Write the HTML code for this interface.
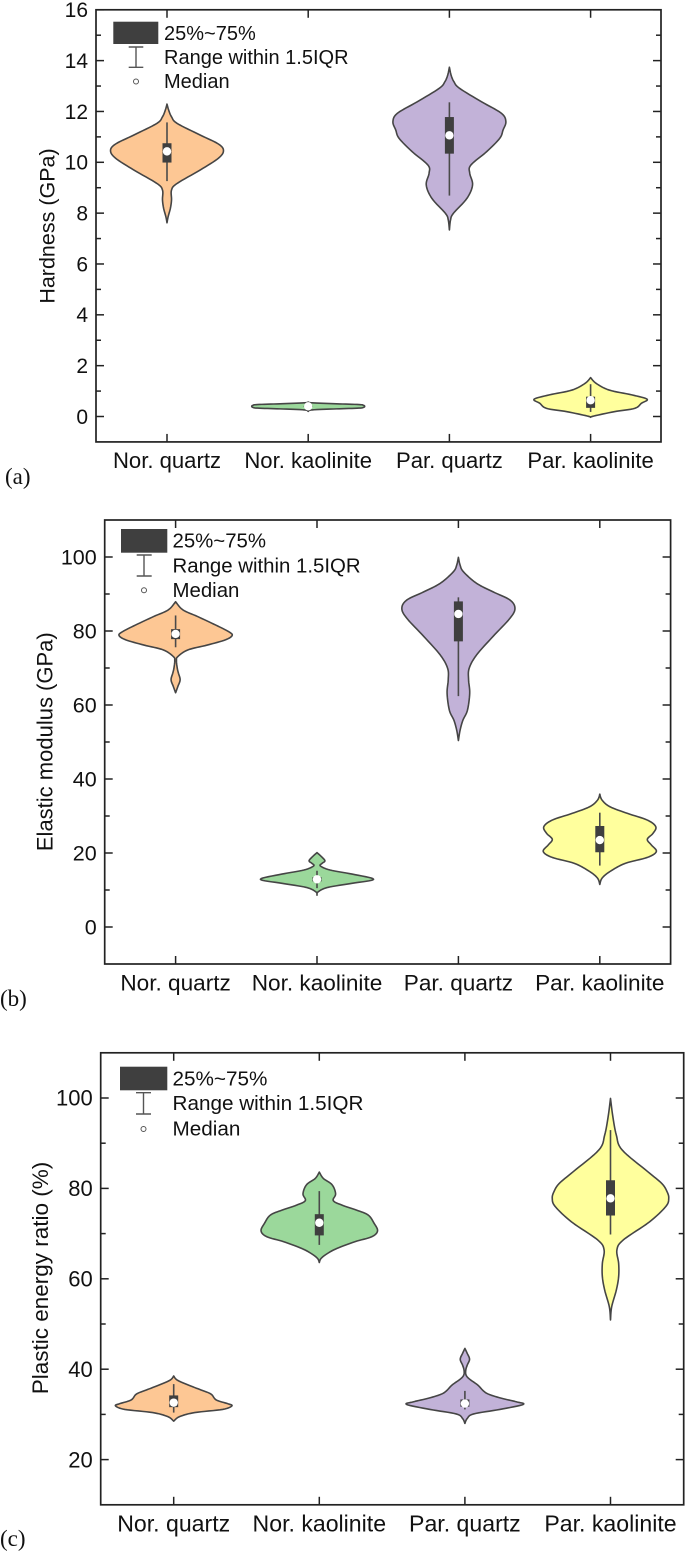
<!DOCTYPE html>
<html lang="en">
<head>
<meta charset="utf-8">
<title>Violin plots of hardness, elastic modulus and plastic energy ratio</title>
<style>
html,body{margin:0;padding:0;background:#fff;}
svg{display:block;}
text{font-family:"Liberation Sans",Arial,sans-serif;fill:#111;}
.panel-letter{font-family:"Liberation Serif","Times New Roman",serif;font-size:23px;}
</style>
</head>
<body>
<svg id="figure" xmlns="http://www.w3.org/2000/svg" width="685" height="1552" viewBox="0 0 685 1552">
  <g id="panel-a">
    <text transform="translate(54.5 226) rotate(-90)" text-anchor="middle" font-size="21.5">Hardness (GPa)</text>
    <g>
      <rect x="113.3" y="21.7" width="45" height="22.3" fill="#3f3f3f"/>
      <path d="M128.7 47H143.3M136 47V67.3M128.7 67.3H143.3" fill="none" stroke="#555" stroke-width="1.4"/>
      <circle cx="136" cy="81.5" r="2.5" fill="#fff" stroke="#555" stroke-width="1"/>
      <text x="164" y="40" font-size="20">25%~75%</text>
      <text x="164" y="64" font-size="20">Range within 1.5IQR</text>
      <text x="164" y="88" font-size="20">Median</text>
    </g>
    <text class="panel-letter" x="5" y="484">(a)</text>
  </g>
  <g id="panel-b">
    <text transform="translate(52.4 741.7) rotate(-90)" text-anchor="middle" font-size="22">Elastic modulus (GPa)</text>
    <g>
      <rect x="121" y="529" width="46.3" height="23.7" fill="#3f3f3f"/>
      <path d="M136.7 555H151.7M144 555V576M136.7 576H151.7" fill="none" stroke="#555" stroke-width="1.4"/>
      <circle cx="144" cy="590.3" r="2.5" fill="#fff" stroke="#555" stroke-width="1"/>
      <text x="172.5" y="547.7" font-size="20.4">25%~75%</text>
      <text x="172.5" y="572.3" font-size="20.4">Range within 1.5IQR</text>
      <text x="172.5" y="597" font-size="20.4">Median</text>
    </g>
    <text class="panel-letter" x="0" y="1006">(b)</text>
  </g>
  <g id="panel-c">
    <text transform="translate(48 1278) rotate(-90)" text-anchor="middle" font-size="22.5">Plastic energy ratio (%)</text>
    <g>
      <rect x="120" y="1066.7" width="47.3" height="23.6" fill="#3f3f3f"/>
      <path d="M136 1092.7H151M143.5 1092.7V1114M136 1114H151" fill="none" stroke="#555" stroke-width="1.4"/>
      <circle cx="143.5" cy="1129" r="2.5" fill="#fff" stroke="#555" stroke-width="1"/>
      <text x="172.5" y="1085.3" font-size="20.7">25%~75%</text>
      <text x="172.5" y="1110" font-size="20.7">Range within 1.5IQR</text>
      <text x="172.5" y="1135.7" font-size="20.7">Median</text>
    </g>
    <text class="panel-letter" x="0" y="1546">(c)</text>
  </g>
</svg>
<script>
// ---- categories and axis ticks ----
const categories = ["Nor. quartz", "Nor. kaolinite", "Par. quartz", "Par. kaolinite"];
const categorySlugs = ["nor-quartz", "nor-kaolinite", "par-quartz", "par-kaolinite"];
const violinColors = ["#fdc794", "#9bd89b", "#c2b2d8", "#ffff9d"];

const hardnessMajorTicks = [0, 2, 4, 6, 8, 10, 12, 14, 16];
const hardnessMinorTicks = [1, 3, 5, 7, 9, 11, 13, 15];
const modulusMajorTicks = [0, 20, 40, 60, 80, 100];
const modulusMinorTicks = [10, 30, 50, 70, 90];
const plasticMajorTicks = [20, 40, 60, 80, 100];
const plasticMinorTicks = [30, 50, 70, 90];

// ---- box statistics, one entry per category ----
const hardnessQ1 = [9.99, 0.38, 10.34, 0.34];
const hardnessQ3 = [10.75, 0.42, 11.78, 0.78];
const hardnessMedian = [10.43, 0.40, 11.06, 0.64];
const hardnessWhiskerLow = [9.26, 0.34, 8.69, 0.18];
const hardnessWhiskerHigh = [11.57, 0.46, 12.36, 1.27];

const modulusQ1 = [77.8, 12.3, 77.2, 20.2];
const modulusQ3 = [80.5, 13.5, 88.0, 27.3];
const modulusMedian = [79.2, 12.9, 84.6, 23.5];
const modulusWhiskerLow = [75.6, 10.5, 62.4, 16.6];
const modulusWhiskerHigh = [84.2, 15.2, 89.1, 30.9];

const plasticQ1 = [31.6, 69.6, 31.7, 74.0];
const plasticQ3 = [34.2, 74.3, 33.3, 81.8];
const plasticMedian = [32.6, 72.4, 32.4, 77.8];
const plasticWhiskerLow = [30.4, 67.5, 31.1, 69.8];
const plasticWhiskerHigh = [36.7, 79.4, 35.2, 92.9];

// ---- violin density profiles (value, relative density) ----
const hardnessQuartzValues = [12.29, 12.05, 11.79, 11.53, 11.07, 10.72, 10.46, 10.16, 9.70, 9.17, 8.91, 8.52, 8.19, 7.86, 7.62];
const hardnessQuartzDensity = [0, .03, .08, .18, .59, .91, 1, .91, .59, .18, .08, .08, .06, .02, 0];
const hardnessKaoliniteValues = [.57, .54, .50, .47, .44, .40, .36, .33, .30, .26, .20];
const hardnessKaoliniteDensity = [0, .07, .5, .9, .98, 1, .98, .9, .5, .07, 0];
const hardnessParQuartzValues = [13.74, 13.43, 13.17, 12.91, 12.38, 11.93, 11.60, 11.27, 10.94, 10.42, 9.89, 9.57, 9.11, 8.58, 7.99, 7.73, 7.34];
const hardnessParQuartzDensity = [0, .03, .08, .18, .57, .92, 1, .95, .89, .66, .38, .36, .41, .31, .07, .02, 0];
const hardnessParKaoliniteValues = [1.53, 1.30, 1.04, .85, .68, .52, .32, .19, .02, -.03];
const hardnessParKaoliniteDensity = [0, .1, .33, .73, 1, .9, .78, .42, .06, 0];

const modulusQuartzValues = [87.9, 85.7, 83.9, 81.6, 79.8, 78.8, 77.6, 76.2, 74.9, 73.1, 72, 69.9, 68.6, 66.8, 65, 63.3];
const modulusQuartzDensity = [0, .13, .39, .71, .94, 1, .88, .56, .22, .04, .015, .03, .05, .08, .04, 0];
const modulusKaoliniteValues = [20.1, 19, 17.9, 17.2, 16.5, 15.4, 14.3, 12.9, 11.8, 10.7, 9.5, 8.6];
const modulusKaoliniteDensity = [0, .08, .14, .09, .06, .23, .62, 1, .62, .19, .02, 0];
const modulusParQuartzValues = [99.9, 97.8, 96, 92.9, 90.6, 88.4, 86.1, 83.4, 78.5, 73.5, 69.9, 66.8, 63.2, 58.6, 55.9, 53.2, 50.4];
const modulusParQuartzDensity = [0, .03, .09, .32, .61, .91, 1, .91, .61, .32, .19, .18, .2, .16, .08, .03, 0];
const modulusParKaoliniteValues = [35.9, 34.3, 32.5, 30.7, 28.9, 27.1, 25.3, 23.7, 22.2, 20.4, 18.8, 17.2, 15, 13.2, 11.5];
const modulusParKaoliniteDensity = [0, .04, .18, .49, .84, .99, .94, .84, .91, 1, .84, .45, .18, .04, 0];

const plasticQuartzValues = [38.5, 37.6, 36.5, 35.4, 34.5, 33.2, 32.4, 31.9, 31.1, 30.4, 29.5, 28.5];
const plasticQuartzDensity = [0, .06, .25, .47, .64, .73, .92, 1, .84, .36, .1, 0];
const plasticKaoliniteValues = [83.6, 82.2, 80.8, 78.8, 77.3, 76.3, 75.2, 74.1, 72.3, 70.6, 69.3, 68.2, 66.7, 65.6, 64.5, 63.6];
const plasticKaoliniteDensity = [0, .07, .22, .28, .24, .39, .64, .84, .94, 1, .9, .61, .3, .14, .03, 0];
const plasticParQuartzValues = [44.6, 43.5, 42.2, 40.9, 39.8, 38.7, 37.8, 36.5, 34.7, 33.6, 32.8, 32.2, 31.1, 30.1, 29.1, 28];
const plasticParQuartzDensity = [0, .04, .08, .04, .015, .02, .08, .22, .37, .62, .88, 1, .6, .15, .04, 0];
const plasticParKaoliniteValues = [99.9, 95.9, 91.8, 88.5, 83.7, 81.1, 79.3, 77.8, 76, 72.6, 68.6, 66.4, 63.4, 60.5, 57.5, 53.8, 50.9];
const plasticParKaoliniteDensity = [0, .04, .1, .2, .64, .88, .97, 1, .95, .67, .22, .11, .14, .14, .1, .02, 0];

// ---- rendering ----
const SVG_NS = "http://www.w3.org/2000/svg";

function make(parent, tag, attrs) {
  const el = document.createElementNS(SVG_NS, tag);
  for (const key in attrs) el.setAttribute(key, attrs[key]);
  parent.appendChild(el);
  return el;
}

// Catmull-Rom sampling of a density profile, clamped at zero width.
function sampleProfile(values, density) {
  const out = [];
  const n = values.length;
  const at = (arr, i) => arr[Math.max(0, Math.min(n - 1, i))];
  const cr = (a, b, c, d, t) => 0.5 * (2 * b + (c - a) * t + (2 * a - 5 * b + 4 * c - d) * t * t + (3 * b - a - 3 * c + d) * t * t * t);
  for (let i = 0; i < n - 1; i++) {
    for (let s = 0; s < 8; s++) {
      const t = s / 8;
      out.push([
        cr(at(values, i - 1), at(values, i), at(values, i + 1), at(values, i + 2), t),
        Math.max(0, cr(at(density, i - 1), at(density, i), at(density, i + 1), at(density, i + 2), t))
      ]);
    }
  }
  out.push([values[n - 1], Math.max(0, density[n - 1])]);
  return out;
}

function drawPanel(p) {
  const root = document.getElementById(p.id);
  const xScale = i => p.xFirst + i * p.xStep;
  const yScale = v => p.yZero - p.yPerUnit * v;
  const halfWidth = 0.4 * p.xStep;
  const bottom = yScale(p.yMin);
  const top = yScale(p.yMax);

  // violins first so that the axes sit on top
  categories.forEach((cat, i) => {
    const group = make(root, "g", {});
    
    

    const pts = sampleProfile(p.values[i], p.density[i]);
    const right = pts.map(q => (xScale(i) + q[1] * halfWidth).toFixed(2) + " " + yScale(q[0]).toFixed(2));
    const left = pts.slice().reverse().map(q => (xScale(i) - q[1] * halfWidth).toFixed(2) + " " + yScale(q[0]).toFixed(2));
    const body = make(group, "path", {
      d: "M" + right.concat(left).join("L") + "Z",
      fill: violinColors[i], stroke: "#454545", "stroke-width": 1.6, "stroke-linejoin": "round"
    });
    
    

    const whisker = make(group, "line", {
      x1: xScale(i), x2: xScale(i), y1: yScale(p.whiskerLow[i]), y2: yScale(p.whiskerHigh[i]),
      stroke: "#4a4a4a", "stroke-width": 1.6
    });
    
    

    const box = make(group, "rect", {
      x: xScale(i) - 4.5, width: 9, y: yScale(p.q3[i]),
      height: Math.max(0, yScale(p.q1[i]) - yScale(p.q3[i])), fill: "#3f3f3f"
    });
    
    

    const median = make(group, "circle", {
      cx: xScale(i), cy: yScale(p.median[i]), r: 4.2, fill: "#fff"
    });
    
    
  });

  // frame
  const frame = make(root, "rect", {
    x: p.left, y: top, width: p.right - p.left, height: bottom - top,
    fill: "none", stroke: "#222", "stroke-width": 1.7
  });
  
  

  // y ticks on both sides
  const tickGroup = make(root, "g", { stroke: "#222", "stroke-width": 1.5 });
  
  
  const yTick = (v, len) => {
    make(tickGroup, "line", { x1: p.left, x2: p.left + len, y1: yScale(v), y2: yScale(v) });
    make(tickGroup, "line", { x1: p.right, x2: p.right - len, y1: yScale(v), y2: yScale(v) });
  };
  p.majorTicks.forEach(v => yTick(v, 8));
  p.minorTicks.forEach(v => yTick(v, 5));

  // y tick labels
  p.majorTicks.forEach(v => {
    const label = make(root, "text", {
      x: p.left - 8, y: yScale(v) + p.tickFont * 0.35, "text-anchor": "end", "font-size": p.tickFont
    });
    
    
    label.textContent = String(v);
  });

  // x ticks and labels
  categories.forEach((cat, i) => {
    make(tickGroup, "line", { x1: xScale(i), x2: xScale(i), y1: bottom, y2: bottom - 8 });
    make(tickGroup, "line", { x1: xScale(i), x2: xScale(i), y1: top, y2: top + 8 });
    const label = make(root, "text", {
      x: xScale(i), y: p.labelBaseline, "text-anchor": "middle", "font-size": p.labelFont
    });
    
    
    label.textContent = cat;
  });
}

drawPanel({
  id: "panel-a", left: 96, right: 661, xFirst: 167, xStep: 141.2,
  yZero: 416.5, yPerUnit: 25.42, yMin: -1, yMax: 16,
  tickFont: 21, labelFont: 22.1, labelBaseline: 468,
  majorTicks: hardnessMajorTicks, minorTicks: hardnessMinorTicks,
  q1: hardnessQ1, q3: hardnessQ3, median: hardnessMedian,
  whiskerLow: hardnessWhiskerLow, whiskerHigh: hardnessWhiskerHigh,
  values: [hardnessQuartzValues, hardnessKaoliniteValues, hardnessParQuartzValues, hardnessParKaoliniteValues],
  density: [hardnessQuartzDensity, hardnessKaoliniteDensity, hardnessParQuartzDensity, hardnessParKaoliniteDensity]
});

drawPanel({
  id: "panel-b", left: 104.7, right: 670.6, xFirst: 175.6, xStep: 141.4,
  yZero: 927, yPerUnit: 3.7, yMin: -10, yMax: 110,
  tickFont: 21.5, labelFont: 22.6, labelBaseline: 990.7,
  majorTicks: modulusMajorTicks, minorTicks: modulusMinorTicks,
  q1: modulusQ1, q3: modulusQ3, median: modulusMedian,
  whiskerLow: modulusWhiskerLow, whiskerHigh: modulusWhiskerHigh,
  values: [modulusQuartzValues, modulusKaoliniteValues, modulusParQuartzValues, modulusParKaoliniteValues],
  density: [modulusQuartzDensity, modulusKaoliniteDensity, modulusParQuartzDensity, modulusParKaoliniteDensity]
});

drawPanel({
  id: "panel-c", left: 100.7, right: 683.7, xFirst: 173.7, xStep: 145.6,
  yZero: 1550, yPerUnit: 4.52, yMin: 10, yMax: 110,
  tickFont: 22, labelFont: 23.1, labelBaseline: 1531.7,
  majorTicks: plasticMajorTicks, minorTicks: plasticMinorTicks,
  q1: plasticQ1, q3: plasticQ3, median: plasticMedian,
  whiskerLow: plasticWhiskerLow, whiskerHigh: plasticWhiskerHigh,
  values: [plasticQuartzValues, plasticKaoliniteValues, plasticParQuartzValues, plasticParKaoliniteValues],
  density: [plasticQuartzDensity, plasticKaoliniteDensity, plasticParQuartzDensity, plasticParKaoliniteDensity]
});
</script>
</body>
</html>
